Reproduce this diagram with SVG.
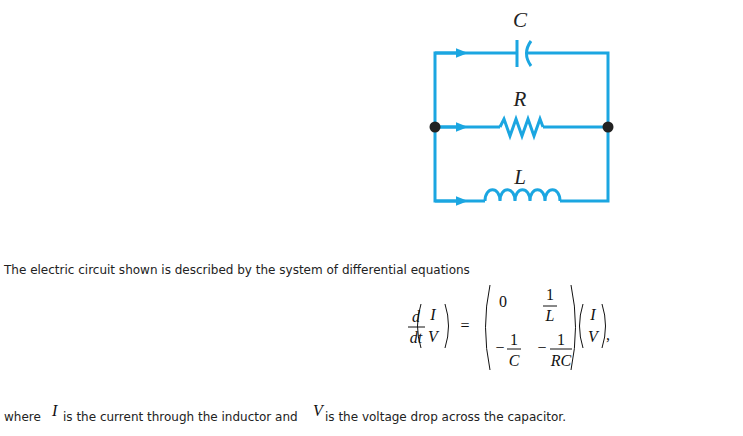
<svg xmlns="http://www.w3.org/2000/svg" width="743" height="436" viewBox="0 0 743 436">
<style>
.w{fill:none;stroke:#1ba6e1;stroke-width:3}
.lbl{font-family:"Liberation Serif",serif;font-style:italic;font-size:21px;fill:#222;text-anchor:middle}
.t{font-family:"DejaVu Sans",sans-serif;font-size:12px;fill:#222}
</style>
<defs><marker id="a" viewBox="0 0 10 10" refX="5" refY="5" markerWidth="4" markerHeight="4" orient="auto"><path d="M0,1L10,5L0,9z" fill="#1ba6e1"/></marker></defs>
<rect width="743" height="436" fill="#fff"/>
<g id="connectors">
<path class="w" d="M500,53H435V201H485M560,201H608V53H527M500,127H435M543,127H608"/>
<path class="w" d="M500,53H517"/>
<path class="w" d="M435,53H462" marker-end="url(#a)"/>
<path class="w" d="M435,127H462" marker-end="url(#a)"/>
<path class="w" d="M435,201H462" marker-end="url(#a)"/>
</g>
<g id="capacitor"><path class="w" d="M517,40V67M531,41Q522,53.5 531,66"/><text class="lbl" x="520" y="27">C</text></g>
<g id="resistor"><path class="w" d="M500,127L504,119L510,136L516,119L522,136L528,119L534,136L540,119L543,127"/><text class="lbl" x="520" y="106">R</text></g>
<g id="inductor"><path class="w" d="M485,201C485,186 500,186 500,201C500,186 515,186 515,201C515,186 530,186 530,201C530,186 545,186 545,201C545,186 560,186 560,201"/><text class="lbl" x="520" y="184">L</text></g>
<g id="nodeL"><circle cx="435" cy="127" r="5.5" fill="#222"/></g>
<g id="nodeR"><circle cx="608" cy="127" r="5.5" fill="#222"/></g>
<text class="t" x="4" y="274">The electric circuit shown is described by the system of differential equations</text>
<g id="eq" font-family="Liberation Serif, serif" font-size="16" fill="#111" text-anchor="middle">
<g stroke="#111" stroke-width="1" fill="none">
<path d="M408,327H425"/><path d="M543,306H557"/><path d="M507,349H521"/><path d="M550,349H572"/>
<path d="M421,304Q414,326 421,348M445,304Q452,326 445,348"/>
<path d="M490,285Q481,327 490,370M571,285Q580,327 571,370"/>
<path d="M583,304Q576,326 583,348M602,304Q609,326 602,348"/>
</g>
<text x="416" y="322" font-style="italic">d</text>
<text x="416" y="343" font-style="italic">dt</text>
<text x="433" y="320" font-style="italic">I</text><text x="433" y="342" font-style="italic">V</text>
<text x="465" y="331">=</text>
<text x="503" y="307">0</text>
<text x="550" y="300">1</text><text x="550" y="321" font-style="italic">L</text>
<text x="500" y="353">−</text><text x="514" y="345">1</text><text x="514" y="366" font-style="italic">C</text>
<text x="542" y="353">−</text><text x="561" y="345">1</text><text x="561" y="366" font-style="italic">RC</text>
<text x="593" y="320" font-style="italic">I</text><text x="593" y="342" font-style="italic">V</text>
<text x="608" y="340">,</text>
</g>
<text x="52" y="416" font-family="Liberation Serif, serif" font-size="16" font-style="italic" fill="#111">I</text>
<text class="t" x="4" y="421">where</text>
<text class="t" x="63" y="421">is the current through the inductor and</text>
<text x="313" y="416" font-family="Liberation Serif, serif" font-size="16" font-style="italic" fill="#111">V</text>
<text class="t" x="325" y="421">is the voltage drop across the capacitor.</text>
</svg>
